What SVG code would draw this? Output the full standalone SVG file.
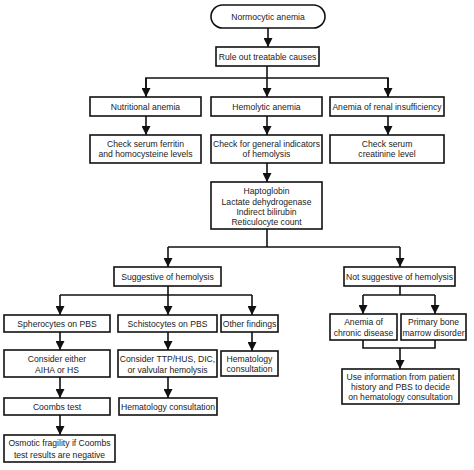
<svg xmlns="http://www.w3.org/2000/svg" width="474" height="470" viewBox="0 0 474 470">
<style>
.b{fill:#fff;stroke:#111;stroke-width:1.6}
.t{font-family:"Liberation Sans",Arial,sans-serif;font-size:8.6px;fill:#222;text-anchor:middle}
.c{fill:none;stroke:#111;stroke-width:1.6}
</style>
<defs>
<marker id="ah" markerUnits="userSpaceOnUse" markerWidth="9" markerHeight="9" refX="9" refY="4.5" orient="auto" viewBox="0 0 9 9">
<path d="M0,0 L9,4.5 L0,9 z" fill="#111"/>
</marker>
</defs>
<rect width="474" height="470" fill="#fff"/>
<g id="connectors">
<line class="c" x1="268" y1="28" x2="268" y2="47" marker-end="url(#ah)"/>
<line class="c" x1="267" y1="66" x2="267" y2="97" marker-end="url(#ah)"/>
<polyline class="c" points="146,97 146,78 388,78 388,97"/>
<line class="c" x1="146" y1="78" x2="146" y2="97" marker-end="url(#ah)"/>
<line class="c" x1="388" y1="78" x2="388" y2="97" marker-end="url(#ah)"/>
<line class="c" x1="146" y1="116" x2="146" y2="135" marker-end="url(#ah)"/>
<line class="c" x1="267" y1="116" x2="267" y2="135" marker-end="url(#ah)"/>
<line class="c" x1="388" y1="116" x2="388" y2="135" marker-end="url(#ah)"/>
<line class="c" x1="267" y1="163" x2="267" y2="182" marker-end="url(#ah)"/>
<line class="c" x1="267" y1="229" x2="267" y2="247"/>
<line class="c" x1="168" y1="247" x2="400" y2="247"/>
<line class="c" x1="168" y1="247" x2="168" y2="267" marker-end="url(#ah)"/>
<line class="c" x1="400" y1="247" x2="400" y2="267" marker-end="url(#ah)"/>
<line class="c" x1="168" y1="286" x2="168" y2="315" marker-end="url(#ah)"/>
<line class="c" x1="60" y1="295" x2="252" y2="295"/>
<line class="c" x1="60" y1="295" x2="60" y2="315" marker-end="url(#ah)"/>
<line class="c" x1="252" y1="295" x2="252" y2="315" marker-end="url(#ah)"/>
<line class="c" x1="60" y1="332" x2="60" y2="350" marker-end="url(#ah)"/>
<line class="c" x1="168" y1="332" x2="168" y2="350" marker-end="url(#ah)"/>
<line class="c" x1="252" y1="332" x2="252" y2="351" marker-end="url(#ah)"/>
<line class="c" x1="60" y1="377" x2="60" y2="398" marker-end="url(#ah)"/>
<line class="c" x1="168" y1="377" x2="168" y2="398" marker-end="url(#ah)"/>
<line class="c" x1="60" y1="415" x2="60" y2="435" marker-end="url(#ah)"/>
<line class="c" x1="400" y1="286" x2="400" y2="295"/>
<line class="c" x1="363" y1="295" x2="435" y2="295"/>
<line class="c" x1="363" y1="295" x2="363" y2="314" marker-end="url(#ah)"/>
<line class="c" x1="435" y1="295" x2="435" y2="314" marker-end="url(#ah)"/>
<polyline class="c" points="363,340 363,348 435,348 435,340"/>
<line class="c" x1="400" y1="348" x2="400" y2="369" marker-end="url(#ah)"/>
</g>
<g id="n-normocytic"><rect class="b" x="211" y="5" width="114" height="23" rx="11.5"/><text class="t" x="268" y="20">Normocytic anemia</text></g>
<g id="n-rule"><rect class="b" x="216" y="47" width="103" height="19"/><text class="t" x="267.5" y="60">Rule out treatable causes</text></g>
<g id="n-nutritional"><rect class="b" x="90" y="97" width="111" height="19"/><text class="t" x="145.5" y="110">Nutritional anemia</text></g>
<g id="n-hemolytic"><rect class="b" x="211" y="97" width="111" height="19"/><text class="t" x="266.5" y="110">Hemolytic anemia</text></g>
<g id="n-renal"><rect class="b" x="330" y="97" width="114" height="19"/><text class="t" x="387" y="110">Anemia of renal insufficiency</text></g>
<g id="n-ferritin"><rect class="b" x="90" y="135" width="111" height="28"/><text class="t" x="145.5" y="147">Check serum ferritin</text><text class="t" x="145.5" y="157">and homocysteine levels</text></g>
<g id="n-general"><rect class="b" x="211" y="135" width="111" height="28"/><text class="t" x="266.5" y="147">Check for general indicators</text><text class="t" x="266.5" y="157">of hemolysis</text></g>
<g id="n-creatinine"><rect class="b" x="330" y="135" width="114" height="28"/><text class="t" x="387" y="147">Check serum</text><text class="t" x="387" y="157">creatinine level</text></g>
<g id="n-haptoglobin"><rect class="b" x="211" y="182" width="111" height="47"/><text class="t" x="266.5" y="194">Haptoglobin</text><text class="t" x="266.5" y="204.5">Lactate dehydrogenase</text><text class="t" x="266.5" y="214.5">Indirect bilirubin</text><text class="t" x="266.5" y="225">Reticulocyte count</text></g>
<g id="n-suggestive"><rect class="b" x="114" y="267" width="107" height="19"/><text class="t" x="167.5" y="280">Suggestive of hemolysis</text></g>
<g id="n-notsuggestive"><rect class="b" x="344" y="267" width="111" height="19"/><text class="t" x="399.5" y="280">Not suggestive of hemolysis</text></g>
<g id="n-spherocytes"><rect class="b" x="4" y="315" width="106" height="17"/><text class="t" x="57" y="327">Spherocytes on PBS</text></g>
<g id="n-schistocytes"><rect class="b" x="118" y="315" width="99" height="17"/><text class="t" x="167.5" y="327">Schistocytes on PBS</text></g>
<g id="n-other"><rect class="b" x="221" y="315" width="57" height="17"/><text class="t" x="249.5" y="327">Other findings</text></g>
<g id="n-aiha"><rect class="b" x="4" y="350" width="106" height="27"/><text class="t" x="57" y="362">Consider either</text><text class="t" x="57" y="373">AIHA or HS</text></g>
<g id="n-ttp"><rect class="b" x="118" y="350" width="99" height="27"/><text class="t" x="167.5" y="362">Consider TTP/HUS, DIC,</text><text class="t" x="167.5" y="373">or valvular hemolysis</text></g>
<g id="n-hemcons1"><rect class="b" x="221" y="351" width="57" height="25"/><text class="t" x="249.5" y="362">Hematology</text><text class="t" x="249.5" y="372">consultation</text></g>
<g id="n-coombs"><rect class="b" x="4" y="398" width="106" height="17"/><text class="t" x="57" y="410">Coombs test</text></g>
<g id="n-hemcons2"><rect class="b" x="119" y="398" width="98" height="17"/><text class="t" x="168" y="410">Hematology consultation</text></g>
<g id="n-osmotic"><rect class="b" x="4" y="435" width="111" height="27"/><text class="t" x="59.5" y="446">Osmotic fragility if Coombs</text><text class="t" x="59.5" y="458">test results are negative</text></g>
<g id="n-chronic"><rect class="b" x="330" y="314" width="67" height="26"/><text class="t" x="363.5" y="325">Anemia of</text><text class="t" x="363.5" y="336">chronic disease</text></g>
<g id="n-marrow"><rect class="b" x="401" y="314" width="65" height="26"/><text class="t" x="433.5" y="325">Primary bone</text><text class="t" x="433.5" y="336">marrow disorder</text></g>
<g id="n-useinfo"><rect class="b" x="342" y="369" width="117" height="35"/><text class="t" x="400.5" y="380">Use information from patient</text><text class="t" x="400.5" y="390">history and PBS to decide</text><text class="t" x="400.5" y="400">on hematology consultation</text></g>
</svg>
